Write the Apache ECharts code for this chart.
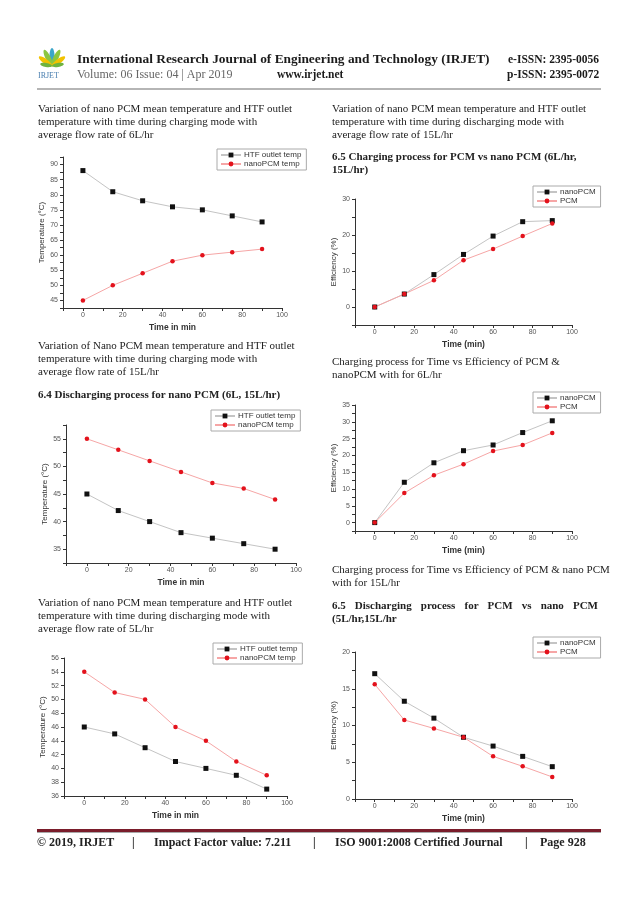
<!DOCTYPE html>
<html><head><meta charset="utf-8">
<script src="https://cdn.jsdelivr.net/npm/echarts@6/dist/echarts.min.js"></script>
<style>html,body{margin:0;padding:0;background:#fff}#c{width:638px;height:902px}</style>
</head><body><div id="c"></div>
<script>
// ---- data ----
const times = [0, 15, 30, 45, 60, 75, 90];
const c1Htf = [88, 81, 78, 76, 75, 73, 71];
const c1Nano = [45, 50, 54, 58, 60, 61, 62];
const c2Nano = [0, 3.6, 9, 14.6, 19.7, 23.7, 24];
const c2Pcm = [0, 3.6, 7.4, 13, 16.1, 19.7, 23.2];
const c3Htf = [45, 42, 40, 38, 37, 36, 35];
const c3Nano = [55, 53, 51, 49, 47, 46, 44];
const c4Nano = [0, 12, 17.8, 21.4, 23.1, 26.8, 30.3];
const c4Pcm = [0, 8.8, 14.1, 17.4, 21.3, 23.1, 26.7];
const c5Htf = [46, 45, 43, 41, 40, 39, 37];
const c5Nano = [54, 51, 50, 46, 44, 41, 39];
const c6Nano = [17.05, 13.3, 11, 8.4, 7.2, 5.8, 4.4];
const c6Pcm = [15.6, 10.75, 9.6, 8.4, 5.8, 4.45, 3.0];
const xLabelStep = 20;

// ---- layout ----
const panels = [
  {grid:{left:63,top:157,width:219,height:151}, y:[42.5,92.5,2.5,5], yname:'Temperature (°C)', xname:'Time in min',
   series:[['HTF outlet temp',c1Htf,'k'],['nanoPCM temp',c1Nano,'r']], lg:{left:217,top:149}},
  {grid:{left:355,top:199,width:217,height:126}, y:[-5,30,5,10], yname:'Efficiency (%)', xname:'Time (min)',
   series:[['nanoPCM',c2Nano,'k'],['PCM',c2Pcm,'r']], lg:{left:533,top:186}},
  {grid:{left:66,top:425,width:230,height:138}, y:[32.5,57.5,2.5,5], yname:'Temperature (°C)', xname:'Time in min',
   series:[['HTF outlet temp',c3Htf,'k'],['nanoPCM temp',c3Nano,'r']], lg:{left:211,top:410}},
  {grid:{left:355,top:405,width:217,height:126}, y:[-2.5,35,2.5,5], yname:'Efficiency (%)', xname:'Time (min)',
   series:[['nanoPCM',c4Nano,'k'],['PCM',c4Pcm,'r']], lg:{left:533,top:392}},
  {grid:{left:64,top:658,width:223,height:138}, y:[36,56,2,2], yname:'Temperature (°C)', xname:'Time in min',
   series:[['HTF outlet temp',c5Htf,'k'],['nanoPCM temp',c5Nano,'r']], lg:{left:213,top:643}},
  {grid:{left:355,top:652,width:217,height:147}, y:[0,20,2.5,5], yname:'Efficiency (%)', xname:'Time (min)',
   series:[['nanoPCM',c6Nano,'k'],['PCM',c6Pcm,'r']], lg:{left:533,top:637}}
];

const SANS = '"Liberation Sans", Arial, sans-serif';
const SERIF = '"Liberation Serif", "Times New Roman", serif';
const isMult = (v, s) => Math.abs(v / s - Math.round(v / s)) < 1e-6;
const axisLineStyle = {color:'#333', width:1};

const grids = [], xAxes = [], yAxes = [], series = [], legends = [];
panels.forEach((p, i) => {
  grids.push(Object.assign({containLabel:false}, p.grid));
  xAxes.push({type:'value', gridIndex:i, min:-10, max:100, interval:10,
    axisLine:{onZero:false, lineStyle:axisLineStyle}, axisTick:{length:3, lineStyle:axisLineStyle},
    splitLine:{show:false},
    axisLabel:{fontSize:7, color:'#555', fontFamily:SANS, margin:4,
      formatter:v => (v >= 0 && isMult(v, xLabelStep)) ? String(v) : ''},
    name:p.xname, nameLocation:'middle', nameGap:15,
    nameTextStyle:{fontSize:8.5, fontWeight:'bold', color:'#333', fontFamily:SANS}});
  yAxes.push({type:'value', gridIndex:i, min:p.y[0], max:p.y[1], interval:p.y[2],
    axisLine:{show:true, onZero:false, lineStyle:axisLineStyle}, axisTick:{show:true, length:3, lineStyle:axisLineStyle},
    splitLine:{show:false},
    axisLabel:{fontSize:7, color:'#555', fontFamily:SANS, margin:5,
      formatter:v => isMult(v, p.y[3]) ? String(v) : ''},
    name:p.yname, nameLocation:'middle', nameGap:17, nameRotate:90,
    nameTextStyle:{fontSize:8, color:'#333', fontFamily:SANS}});
  p.series.forEach(s => {
    const black = s[2] === 'k';
    series.push({type:'line', name:s[0], xAxisIndex:i, yAxisIndex:i,
      data: times.map((t, k) => [t, s[1][k]]),
      symbol: black ? 'rect' : 'circle', symbolSize: black ? 5 : 4.5,
      itemStyle:{color: black ? '#111' : '#e3121c'},
      lineStyle:{color: black ? '#c4c4c4' : '#f6a6a6', width:1},
      animation:false});
  });
  legends.push({data:p.series.map(s => s[0]), left:p.lg.left, top:p.lg.top, orient:'vertical',
    itemWidth:20, itemHeight:6, itemGap:1, padding:[2,5,2,3], borderColor:'#aaa', borderWidth:1,
    backgroundColor:'#fff', selectedMode:false,
    textStyle:{fontSize:8, color:'#333', fontFamily:SANS, padding:[0,0,0,-2]}});
});

// ---- page text ----
const BODY = 11, HEAD = 11;
function fontStr(opt) {
  return (opt.bold ? 'bold ' : '') + (opt.size || BODY) + 'px ' + (opt.family || SERIF);
}
function txt(x, y, text, opt) {
  opt = opt || {};
  return {type:'text', x:x, y:y, silent:true,
    style:{text:text, fill:opt.fill || '#222', verticalAlign:'middle', font:fontStr(opt)}};
}
const measureCtx = document.createElement('canvas').getContext('2d');
function justify(x0, x1, y, words, opt) {
  measureCtx.font = fontStr(opt);
  const widths = words.map(w => measureCtx.measureText(w).width);
  const total = widths.reduce((a, b) => a + b, 0);
  const gap = (x1 - x0 - total) / (words.length - 1);
  let x = x0;
  return words.map((w, k) => { const el = txt(x, y, w, opt); x += widths[k] + gap; return el; });
}
const L = 38, R = 332;
const graphics = [
  // logo
  {type:'group', x:52, y:66, silent:true, children:[
    {type:'ellipse', shape:{cx:0, cy:-9, rx:2.6, ry:9}, rotation:0.0, style:{fill:'#3ba6c9'}},
    {type:'ellipse', shape:{cx:0, cy:-9, rx:2.6, ry:9}, rotation:0.45, style:{fill:'#8cc63f'}},
    {type:'ellipse', shape:{cx:0, cy:-9, rx:2.6, ry:9}, rotation:-0.45, style:{fill:'#8cc63f'}},
    {type:'ellipse', shape:{cx:0, cy:-8, rx:2.4, ry:8}, rotation:0.95, style:{fill:'#f2c200'}},
    {type:'ellipse', shape:{cx:0, cy:-8, rx:2.4, ry:8}, rotation:-0.95, style:{fill:'#f2c200'}},
    {type:'ellipse', shape:{cx:0, cy:-6, rx:2, ry:6}, rotation:1.4, style:{fill:'#6fb33f'}},
    {type:'ellipse', shape:{cx:0, cy:-6, rx:2, ry:6}, rotation:-1.4, style:{fill:'#6fb33f'}}
  ]},
  txt(38, 76, 'IRJET', {size:8, fill:'#4a7fb0'}),
  txt(77, 60, 'International Research Journal of Engineering and Technology (IRJET)', {bold:true, size:13.4, fill:'#1b1b1b'}),
  txt(508, 60, 'e-ISSN: 2395-0056', {bold:true, size:11.5, fill:'#1b1b1b'}),
  txt(77, 75, 'Volume: 06 Issue: 04 | Apr 2019', {size:12, fill:'#666'}),
  txt(277, 75, 'www.irjet.net', {bold:true, size:11.5, fill:'#1b1b1b'}),
  txt(507, 75, 'p-ISSN: 2395-0072', {bold:true, size:11.5, fill:'#1b1b1b'}),
  {type:'rect', silent:true, shape:{x:37, y:88, width:564, height:2}, style:{fill:'#b5b5b5'}},

  // left column
  txt(L, 109, 'Variation of nano PCM mean temperature and HTF outlet'),
  txt(L, 122, 'temperature with time during charging mode with'),
  txt(L, 135, 'average flow rate of 6L/hr'),
  txt(L, 346, 'Variation of Nano PCM mean temperature and HTF outlet'),
  txt(L, 359, 'temperature with time during charging mode with'),
  txt(L, 372, 'average flow rate of 15L/hr'),
  txt(L, 395, '6.4 Discharging process for nano PCM (6L, 15L/hr)', {bold:true, size:HEAD}),
  txt(L, 603, 'Variation of nano PCM mean temperature and HTF outlet'),
  txt(L, 616, 'temperature with time during discharging mode with'),
  txt(L, 629, 'average flow rate of 5L/hr'),

  // right column
  txt(R, 109, 'Variation of nano PCM mean temperature and HTF outlet'),
  txt(R, 122, 'temperature with time during discharging mode with'),
  txt(R, 135, 'average flow rate of 15L/hr'),
  txt(R, 157, '6.5 Charging process for PCM vs nano PCM (6L/hr,', {bold:true, size:HEAD}),
  txt(R, 170, '15L/hr)', {bold:true, size:HEAD}),
  txt(R, 362, 'Charging process for Time vs Efficiency of PCM &'),
  txt(R, 375, 'nanoPCM with for 6L/hr'),
  txt(R, 570, 'Charging process for Time vs Efficiency of PCM & nano PCM'),
  txt(R, 583, 'with for 15L/hr'),
  ...justify(R, 598, 606, ['6.5', 'Discharging', 'process', 'for', 'PCM', 'vs', 'nano', 'PCM'], {bold:true, size:HEAD}),
  txt(R, 619, '(5L/hr,15L/hr', {bold:true, size:HEAD}),

  // footer
  {type:'rect', silent:true, shape:{x:37, y:829, width:564, height:3}, style:{fill:'#7a1d2b'}},
  {type:'rect', silent:true, shape:{x:37, y:832, width:564, height:1}, style:{fill:'#a9a9a9'}},
  txt(37, 843, '© 2019, IRJET', {bold:true, size:12}),
  txt(132, 843, '|', {bold:true, size:12}),
  txt(154, 843, 'Impact Factor value: 7.211', {bold:true, size:12}),
  txt(313, 843, '|', {bold:true, size:12}),
  txt(335, 843, 'ISO 9001:2008 Certified Journal', {bold:true, size:12}),
  txt(525, 843, '|', {bold:true, size:12}),
  txt(540, 843, 'Page 928', {bold:true, size:12})
];

const chart = echarts.init(document.getElementById('c'), null, {renderer:'canvas'});
chart.setOption({
  backgroundColor:'#fff', animation:false,
  grid:grids, xAxis:xAxes, yAxis:yAxes, series:series, legend:legends,
  graphic:graphics
});
</script></body></html>
